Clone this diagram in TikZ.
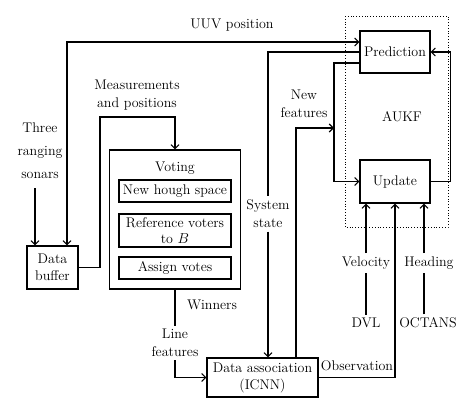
\documentclass[tikz,border=0pt]{standalone}
\usepackage{amsmath}
\usepackage{tikz}
\usetikzlibrary{arrows.meta}

\tikzset{
  blk/.style={draw,rectangle,inner sep=2pt,align=center},
  lbl/.style={inner sep=3pt,align=center},
}

\begin{document}
\begin{tikzpicture}[x=1pt,y=-1pt,line width=1.1pt,
    >={Straight Barb[length=4pt,width=8pt]},
    font=\fontsize{14}{18}\selectfont]
		\useasboundingbox (0,0) rectangle (474,415);
		
		% AUKF
		\draw[dotted,line width=0.8pt] (345,16) rectangle (448,227);
		\node[blk,minimum width=70pt,minimum height=42pt] (pred) at (395,52) {Prediction};
		\node[blk,minimum width=70pt,minimum height=43pt] (upd) at (395,181.5) {Update};
		\node (aukf) at (402,117) {AUKF};
		
		% blocks
		\node[blk,minimum width=51pt,minimum height=43pt,
			font=\fontsize{14}{17}\selectfont] (buffer) at (52.5,267.5) {Data\\buffer};
		\node[blk,minimum width=131pt,minimum height=139pt] (voting) at (175,219.5) {};
		\node (votlbl) at (175,168) {Voting};
		\node[blk,minimum width=112pt,minimum height=22pt] (hough) at (175,191) {New hough space};
		\node[blk,minimum width=112pt,minimum height=33pt,
			font=\fontsize{14}{16}\selectfont] (refv) at (175,230.5) {Reference voters\\to $B$};
		\node[blk,minimum width=112pt,minimum height=22pt] (assign) at (175,268) {Assign votes};
		\node[blk,minimum width=111pt,minimum height=39pt,
			font=\fontsize{14}{17}\selectfont] (assoc) at (262.5,377.5) {Data association\\(ICNN)};
		
		% labels
		\node[lbl] (uuv) at (232,25) {UUV position};
		\node[lbl] (meas) at (137,95) {Measurements\\and positions};
		\node[lbl,font=\fontsize{14}{23}\selectfont] (sonars) at (40,151) {Three\\ranging\\sonars};
		\node[lbl] (winners) at (212,305) {Winners};
		\node[lbl] (linef) at (175,343) {Line\\features};
		\node[lbl] (sysst) at (268,214) {System\\state};
		\node[lbl] (newf) at (304,104) {New\\features};
		\node[lbl] (vel) at (366,263) {Velocity};
		\node[lbl] (head) at (429,263) {Heading};
		\node[lbl] (dvl) at (366,323) {DVL};
		\node[lbl] (octans) at (428,323) {OCTANS};
		\node[lbl] (obs) at (357,366) {Observation};
		
		\coordinate (b1) at ([xshift=-17.5pt]buffer.north);
		\coordinate (b2) at ([xshift=14.5pt]buffer.north);
		\coordinate (m1) at (100,117);
		\coordinate (nf) at (334,128);
		\coordinate (hd) at ([xshift=29pt]upd.south);
		\coordinate (vl) at ([xshift=-29pt]upd.south);
		
		% connectors
		\draw[<->] ([yshift=10pt]pred.west) -| (b2);
		\draw[->] (sonars.south -| b1) ++(0,6) -- (b1);
		\draw[->] (buffer.east) -| (m1) -| (voting.north);
		\draw (voting.south) -- (linef.north);
		\draw[->] (linef.south) |- (assoc.west);
		\draw (pred.west) -| (sysst.north);
		\draw[->] (sysst.south) -- (sysst.south |- assoc.north);
		\draw[->] ([xshift=33.5pt]assoc.north) |- (nf);
		\draw[->] ([yshift=-11pt]pred.west) -| (nf) |- (upd.west);
		\draw[->] (upd.east) -- ++(20,0) |- (pred.east);
		\draw[->] (assoc.east) -| (upd.south);
		\draw[->] (vel.north -| vl) -- (vl);
		\draw (dvl.north -| vl) -- (vel.south -| vl);
		\draw[->] (head.north -| hd) -- (hd);
		\draw (octans.north -| hd) -- (head.south -| hd);
	\end{tikzpicture}
\end{document}
